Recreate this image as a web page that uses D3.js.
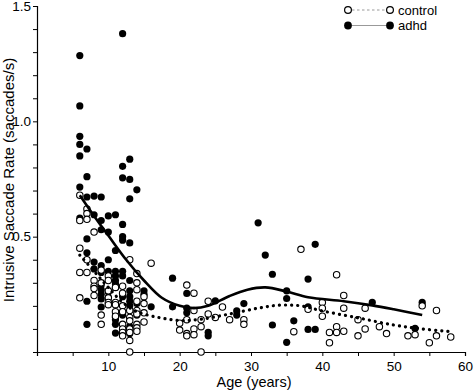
<!DOCTYPE html>
<html><head><meta charset="utf-8">
<script src="https://cdn.jsdelivr.net/npm/d3@7"></script>
<style>body{margin:0;background:#fff}svg{display:block}text{font-family:"Liberation Sans",Arial,sans-serif}</style>
</head><body><svg id="c" width="474" height="391"></svg>
<script>
// control (open circles): [age, rate]
const controlPoints = [
[6,0.68],[6,0.57],[6,0.45],[6,0.345],[6,0.235],
[7,0.62],[7,0.60],[7,0.575],[7,0.40],[7,0.345],
[8,0.52],[8,0.31],[8,0.285],[8,0.275],[8,0.245],
[9,0.355],[9,0.30],[9,0.16],[9,0.12],
[10,0.33],[10,0.31],[10,0.265],[10,0.235],[10,0.215],[10,0.205],
[11,0.28],[11,0.215],[11,0.205],[11,0.175],[11,0.155],
[12,0.285],[12,0.255],[12,0.20],[12,0.175],[12,0.12],[12,0.10],[12,0.085],[12,0.07],
[13,0.40],[13,0.18],[13,0.15],[13,0.135],[13,0.10],[13,0.085],[13,0.05],[13,0.0],
[14,0.34],[14,0.30],[14,0.27],[14,0.22],[14,0.18],[14,0.165],[14,0.12],[14,0.105],[14,0.09],
[15,0.24],[15,0.21],[15,0.17],[15,0.13],
[16,0.385],
[20,0.125],[20,0.095],
[21,0.29],[21,0.14],[21,0.08],[21,0.07],
[22,0.255],[22,0.18],[22,0.10],[22,0.075],
[23,0.14],[23,0.11],[23,0.0],
[24,0.22],[24,0.165],[25,0.15],[26,0.195],[27,0.14],
[29,0.14],[29,0.12],
[36,0.088],[37,0.445],[38,0.185],
[40,0.215],[40,0.19],[40,0.155],
[41,0.085],[41,0.04],
[42,0.335],[42,0.11],[42,0.085],
[43,0.245],[43,0.19],[43,0.09],
[45,0.14],[45,0.07],[46,0.19],[46,0.10],
[48,0.11],[49,0.08],[52,0.07],[53,0.075],[54,0.20],
[55,0.04],[56,0.18],[56,0.07],[58,0.065]
];
// adhd (filled circles): [age, rate]
const adhdPoints = [
[6,1.285],[6,1.067],[6,0.935],[6,0.90],[6,0.85],[6,0.715],[6,0.58],
[7,0.88],[7,0.76],[7,0.672],[7,0.49],[7,0.43],[7,0.22],[7,0.12],
[8,0.676],[8,0.595],[8,0.39],[8,0.36],
[9,0.672],[9,0.57],[9,0.53],[9,0.375],[9,0.345],[9,0.29],[9,0.27],[9,0.25],[9,0.23],[9,0.195],
[10,0.59],[10,0.52],[10,0.40],[10,0.35],[10,0.26],[10,0.235],
[11,0.595],[11,0.44],[11,0.35],[11,0.33],[11,0.31],[11,0.295],[11,0.28],[11,0.15],[11,0.14],[11,0.12],[11,0.082],
[12,1.38],[12,0.805],[12,0.755],[12,0.553],[12,0.50],[12,0.485],[12,0.35],[12,0.33],[12,0.24],[12,0.17],[12,0.16],[12,0.083],
[13,0.836],[13,0.748],[13,0.664],[13,0.473],[13,0.31],[13,0.265],[13,0.24],[13,0.22],[13,0.20],[13,0.11],[13,0.08],
[14,0.703],[14,0.21],[14,0.16],
[15,0.265],[15,0.25],[16,0.196],
[19,0.32],[19,0.196],
[21,0.254],[21,0.19],[21,0.17],
[24,0.085],[24,0.07],[25,0.222],
[28,0.178],[28,0.16],[29,0.21],
[31,0.56],[32,0.42],[33,0.337],[33,0.117],
[35,0.265],[35,0.232],[35,0.042],[36,0.135],
[38,0.316],[38,0.196],[38,0.098],[39,0.467],[39,0.098],
[47,0.215],[53,0.102],[54,0.215]
];
// smoothed fit curves
const controlFit = [[6,0.42],[8,0.35],[10,0.28],[12,0.215],[14,0.175],[17,0.15],[20,0.137],[23,0.142],[27,0.165],[31,0.19],[34,0.203],[37,0.2],[40,0.178],[45,0.148],[50,0.117],[54,0.1],[58,0.088]];
const adhdFit = [[6,0.68],[8,0.59],[10,0.505],[12.5,0.40],[15,0.31],[17.5,0.235],[20,0.20],[22,0.19],[24,0.20],[27,0.243],[29.5,0.27],[32,0.28],[35,0.262],[38,0.237],[43,0.22],[47,0.202],[50,0.185],[54,0.16]];
const xTicks = [0,5,10,15,20,25,30,35,40,45,50,55,60];
const xLabels = [10,20,30,40,50,60];
const yTicks = [0,0.1,0.2,0.3,0.4,0.5,0.6,0.7,0.8,0.9,1.0,1.1,1.2,1.3,1.4,1.5];
const yLabels = [0.5,1.0,1.5];
const legendItems = ["control","adhd"];

const svg = d3.select("#c");
const x = d3.scaleLinear().domain([0,60]).range([37,465]);
const y = d3.scaleLinear().domain([0,1.5]).range([352,6]);

const near = (a,b)=>Math.abs(a-b)<1e-6;
const xa = svg.append("g").attr("transform","translate(0,352)")
  .call(d3.axisBottom(x).tickValues(xTicks).tickSize(4).tickPadding(5)
    .tickFormat(d=>xLabels.some(v=>near(v,d))?d3.format("d")(d):""));
const ya = svg.append("g").attr("transform","translate(37,0)")
  .call(d3.axisLeft(y).tickValues(yTicks).tickSize(4).tickPadding(2)
    .tickFormat(d=>yLabels.some(v=>near(v,d))?d3.format(".1f")(d):""));
[xa,ya].forEach(g=>{
  g.select(".domain").attr("stroke","#000").attr("stroke-width",1.2);
  g.selectAll(".tick line").attr("stroke","#000").attr("stroke-width",1);
  g.selectAll(".tick text").attr("font-size",13.5).attr("fill","#000").attr("font-family","Liberation Sans, Arial, sans-serif");
});

svg.append("text").attr("x",254).attr("y",387).attr("text-anchor","middle").attr("font-size",14.5).text("Age (years)");
svg.append("text").attr("transform","translate(14,180) rotate(-90)").attr("text-anchor","middle").attr("font-size",15).text("Intrusive Saccade Rate (saccades/s)");

const r = 3.6;
svg.append("g").selectAll("circle").data(adhdPoints).join("circle")
  .attr("cx",d=>x(d[0])).attr("cy",d=>y(d[1])).attr("r",r).attr("fill","#000");
svg.append("g").selectAll("circle").data(controlPoints).join("circle")
  .attr("cx",d=>x(d[0])).attr("cy",d=>y(d[1])).attr("r",r-0.4).attr("fill","#fff").attr("stroke","#000").attr("stroke-width",1.1);

const line = d3.line().x(d=>x(d[0])).y(d=>y(d[1])).curve(d3.curveCatmullRom.alpha(0.5));
svg.append("path").attr("d",line(adhdFit)).attr("fill","none").attr("stroke","#000").attr("stroke-width",2.6);
svg.append("path").attr("d",line(controlFit)).attr("fill","none").attr("stroke","#000").attr("stroke-width",3.2)
  .attr("stroke-dasharray","0.1,6").attr("stroke-linecap","round");

// legend
const lg = svg.append("g");
legendItems.forEach((name,i)=>{
  const yy = 10 + i*15.5;
  lg.append("line").attr("x1",352).attr("x2",386).attr("y1",yy).attr("y2",yy)
    .attr("stroke","#999").attr("stroke-width",1).attr("stroke-dasharray",i===0?"2.5,2.5":null);
  [348,390].forEach(cx=>{
    lg.append("circle").attr("cx",cx).attr("cy",yy).attr("r",i===0?3.4:3.9)
      .attr("fill",i===0?"#fff":"#000").attr("stroke","#000").attr("stroke-width",i===0?1.2:0);
  });
  lg.append("text").attr("x",398).attr("y",yy+4.5).attr("font-size",13).text(name);
});
</script></body></html>
